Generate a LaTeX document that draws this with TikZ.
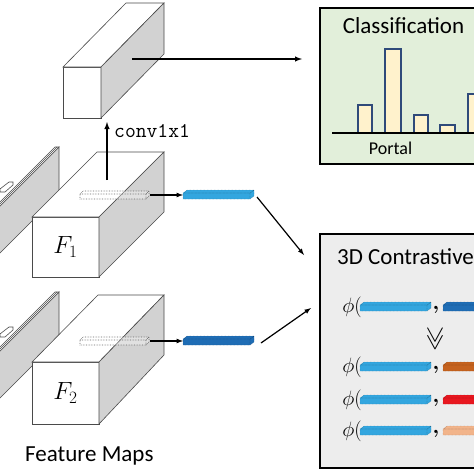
\documentclass[tikz,border=0pt]{standalone}
\usepackage{fontspec}
\setmainfont{Carlito}
\definecolor{edgegray}{HTML}{4A4A4A}
\definecolor{sidegray}{HTML}{D2D2D2}
\definecolor{clsgreen}{HTML}{E2EFDA}
\definecolor{ctrgray}{HTML}{EDEDED}
\definecolor{barfill}{HTML}{FFF2CC}
\definecolor{bardraw}{HTML}{2F4A7A}
\definecolor{veclight}{HTML}{33A6DF}
\definecolor{vecdark}{HTML}{1F6DB5}
\definecolor{vecorange}{HTML}{C5621E}
\definecolor{vecred}{HTML}{E8171F}
\definecolor{vecpeach}{HTML}{F2B48A}
\tikzset{
  face/.style={fill=white, draw=edgegray, line width=0.6pt},
  side/.style={fill=sidegray, draw=edgegray, line width=0.6pt},
  rod/.style={draw=black!60, fill=white, fill opacity=0.35, densely dotted, line width=0.6pt},
  panel/.style={draw=black, line width=1.6pt, anchor=north west, inner sep=0pt},
  bar/.style={fill=barfill, draw=bardraw, line width=1.1pt},
  title/.style={font=\fontsize{23}{27}\selectfont, inner sep=0pt},
  phi/.style={font=\fontsize{22}{22}\selectfont, anchor=east, inner sep=0pt},
  comma/.style={font=\fontsize{22}{22}\selectfont\boldmath, inner sep=0pt},
}
% one feature vector, from its front top-left corner
\newcommand{\featvec}[3]{%
  \filldraw[fill=#3, draw=#3!60!black, densely dotted, line width=0.4pt]
    (#1,#2) -- ++(67,0) -- ++(0,6) -- ++(-67,0) -- cycle
    (#1,#2) -- ++(4,-3) -- ++(67,0) -- ++(-4,3) -- cycle
    (#1+67,#2) -- ++(4,-3) -- ++(0,6) -- ++(-4,3) -- cycle;}
\begin{document}
\begin{tikzpicture}[x=1pt, y=-1pt, >=latex]
        \useasboundingbox (0,0) rectangle (474,474);
        \clip (0,0) rectangle (474,474);

        % conv1x1 output
        \filldraw[face] (63,67) rectangle (101,118);
        \filldraw[face] (63,67) -- (126,3) -- (164,3) -- (101,67) -- cycle;
        \filldraw[side] (101,67) -- (164,3) -- (164,54) -- (101,118) -- cycle;

        % F1 and the map behind it
        \filldraw[side] (-10,216) -- (59,147) -- (59,194) -- (-10,263) -- cycle;
        \filldraw[face] (-14,216) -- (55,147) -- (59,147) -- (-10,216) -- cycle;
        \draw[edgegray, line width=0.4pt] (-12,216) -- (57,147);
        \filldraw[face] (0,189) -- (9,182) -- (13,182) -- (13,185) -- (5,192) -- (0,192) -- cycle;
        \filldraw[face] (32,217) rectangle (99,277);
        \filldraw[face] (32,217) -- (97,152) -- (164,152) -- (99,217) -- cycle;
        \filldraw[side] (99,217) -- (164,152) -- (164,212) -- (99,277) -- cycle;
        \filldraw[rod] (80,194) rectangle (146,199) (80,194) -- (83,191) -- (149,191) -- (146,194)
            (146,199) -- (149,196) -- (149,191) -- (146,194);
        \node[font=\fontsize{25}{25}\selectfont] (f1) at (65.5,247) {$F_1$};

        % F2 and the map behind it
        \filldraw[side] (-10,361) -- (59,292) -- (59,339) -- (-10,408) -- cycle;
        \filldraw[face] (-14,361) -- (55,292) -- (59,292) -- (-10,361) -- cycle;
        \draw[edgegray, line width=0.4pt] (-12,361) -- (57,292);
        \filldraw[face] (0,334) -- (9,327) -- (13,327) -- (13,330) -- (5,337) -- (0,337) -- cycle;
        \filldraw[face] (32,362) rectangle (99,424);
        \filldraw[face] (32,362) -- (98,295) -- (164,295) -- (99,362) -- cycle;
        \filldraw[side] (99,362) -- (164,295) -- (164,355) -- (99,424) -- cycle;
        \filldraw[rod] (80,340) rectangle (146,345) (80,340) -- (83,337) -- (149,337) -- (146,340)
            (146,345) -- (149,342) -- (149,337) -- (146,340);
        \node[font=\fontsize{25}{25}\selectfont] (f2) at (65.5,393) {$F_2$};

        \node[title, anchor=base west] (maps) at (25,461) {Feature Maps};

        % Vectors
        \featvec{183}{193}{veclight}
        \featvec{183}{339}{vecdark}

        % Panels
        \node[panel, fill=clsgreen, minimum width=170pt, minimum height=156pt] (cls) at (319,7) {};
        \node[panel, fill=ctrgray, minimum width=170pt, minimum height=234pt] (ctr) at (319,233) {};

        % Classification
        \node[title, anchor=base] (clstitle) at (403.5,33) {Classification};
        \filldraw[bar] (358,105) rectangle (372,133);
        \filldraw[bar] (385,49) rectangle (401,133);
        \filldraw[bar] (414,115) rectangle (428,133);
        \filldraw[bar] (440,125) rectangle (455,133);
        \filldraw[bar] (468,94) rectangle (484,133);
        \coordinate (axl) at (332,133);
        \coordinate (axr) at (480,133);
        \draw[line width=1.4pt] (axl) -- (axr);
        \node[font=\fontsize{18}{20}\selectfont, inner sep=0pt, anchor=base] (portal) at (390.5,154) {Portal};

        % 3D Contrastive
        \node[title, anchor=base west] (ctrtitle) at (337,264) {3D Contrastive};
        \node[phi] (phia) at (362,307) {$\phi($};
        \node[phi] (phib) at (362,367) {$\phi($};
        \node[phi] (phic) at (362,400) {$\phi($};
        \node[phi] (phid) at (362,431) {$\phi($};
        \featvec{360}{305}{veclight}
        \featvec{360}{365}{veclight}
        \featvec{360}{398}{veclight}
        \featvec{360}{429}{veclight}
        \node[comma] (ca) at (436,310) {$,$};
        \node[comma] (cb) at (436,370) {$,$};
        \node[comma] (cc) at (436,403) {$,$};
        \node[comma] (cd) at (436,434) {$,$};
        \featvec{443}{305}{vecdark}
        \featvec{443}{365}{vecorange}
        \featvec{443}{398}{vecred}
        \featvec{443}{429}{vecpeach}
        \node[font=\fontsize{24}{24}\selectfont, rotate=-90, inner sep=0pt] (down) at (435,339) {$\gg$};

        % Connections
        \coordinate (boxside) at (132,59);
        \coordinate (clsin) at (302,59);
        \coordinate (f1top) at (107,180);
        \coordinate (boxbot) at (107,122);
        \coordinate (rod1) at (150,195);
        \coordinate (vin1) at (183,195);
        \coordinate (rod2) at (150,341);
        \coordinate (vin2) at (183,341);
        \coordinate (vout1) at (257,197);
        \coordinate (ctrin1) at (304,255);
        \coordinate (vout2) at (261,343);
        \coordinate (ctrin2) at (311,308);
        \draw[->, line width=1.4pt] (boxside) -- (clsin);
        \draw[->, line width=1.4pt] (f1top) -- (boxbot);
        \draw[->, line width=1.2pt] (rod1) -- (vin1);
        \draw[->, line width=1.2pt] (rod2) -- (vin2);
        \draw[->, line width=1.2pt] (vout1) -- (ctrin1);
        \draw[->, line width=1.2pt] (vout2) -- (ctrin2);
        \node[font=\ttfamily\fontsize{21}{21}\selectfont, anchor=base west, inner sep=0pt] (conv) at (114,137) {conv1x1};
\end{tikzpicture}
\end{document}
